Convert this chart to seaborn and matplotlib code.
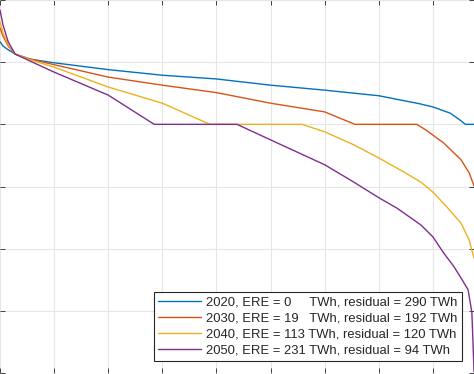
import pandas as pd
import matplotlib
matplotlib.use("Agg")
import matplotlib.pyplot as plt
import seaborn as sns

# load duration curves (hours of the year vs. load)
hours_2020 = [0, 55, 150, 280, 550, 1000, 2000, 3000, 4000, 5000, 6000, 7000, 7760, 8000, 8320, 8500, 8600, 8760]
load_2020 = [53.3, 52.6, 52.0, 51.3, 50.5, 49.9, 48.8, 47.9, 47.3, 46.3, 45.5, 44.6, 43.3, 42.8, 41.8, 40.7, 40.0, 40.0]

hours_2030 = [0, 55, 150, 280, 550, 1000, 2000, 3000, 4000, 5000, 6000, 6560, 7700, 7870, 8200, 8520, 8670, 8760]
load_2030 = [55.5, 54.2, 52.6, 51.3, 50.5, 49.6, 47.6, 46.3, 45.1, 43.4, 42.0, 40.0, 40.0, 39.1, 37.0, 34.3, 32.2, 30.1]

hours_2040 = [0, 55, 150, 280, 550, 1000, 2000, 3000, 3880, 5580, 6000, 6540, 7000, 7470, 7780, 8000, 8260, 8520, 8670, 8760]
load_2040 = [56.5, 54.7, 52.8, 51.3, 50.4, 49.2, 46.0, 43.4, 40.0, 40.0, 38.8, 36.7, 34.6, 32.3, 30.7, 29.1, 26.7, 24.1, 21.4, 18.5]

hours_2050 = [0, 55, 150, 280, 550, 1000, 2000, 2850, 4380, 5000, 6000, 6540, 7000, 7340, 7780, 8000, 8200, 8390, 8540, 8650, 8720, 8740, 8760]
load_2050 = [58.4, 56.0, 53.3, 51.3, 50.2, 48.4, 44.7, 40.0, 40.0, 37.5, 33.5, 30.7, 28.2, 26.5, 23.8, 21.9, 19.3, 17.1, 15.0, 13.4, 9.8, 5.3, 0.2]

labels = [
    "2020, ERE = 0     TWh, residual = 290 TWh",
    "2030, ERE = 19   TWh, residual = 192 TWh",
    "2040, ERE = 113 TWh, residual = 120 TWh",
    "2050, ERE = 231 TWh, residual = 94 TWh",
]
colors = ["#0072BD", "#D95319", "#EDB120", "#7E2F8E"]

series = [(hours_2020, load_2020), (hours_2030, load_2030), (hours_2040, load_2040), (hours_2050, load_2050)]
frames = []
for lab, (h, v) in zip(labels, series):
    frames.append(pd.DataFrame({"hours": h, "load": v, "case": lab}))
df = pd.concat(frames, ignore_index=True)

sns.set_style("whitegrid")
plt.rcParams['font.family'] = ['Liberation Sans', 'DejaVu Sans']

fig = plt.figure(figsize=(4.74, 3.74), dpi=100)
ax = fig.add_axes([0, 1 / 374, 1, 373 / 374])

sns.lineplot(data=df, x="hours", y="load", hue="case", palette=colors,
             sort=False, estimator=None, linewidth=1.0, ax=ax)

ax.set_xlim(0, 8760)
ax.set_ylim(0, 60)
ax.set_xticks(range(0, 9000, 1000))
ax.set_yticks(range(0, 70, 10))
ax.set_xticklabels([])
ax.set_yticklabels([])
ax.set_xlabel("")
ax.set_ylabel("")
ax.grid(True, color="#e6e6e6", linewidth=0.8)
for s in ax.spines.values():
    s.set_visible(False)
ax.tick_params(direction="in", length=3.6, width=0.6, color="#262626",
               top=True, right=True, bottom=True, left=True)

leg = ax.legend(loc="lower right", bbox_to_anchor=(462 / 474, 13 / 374),
                bbox_transform=fig.transFigure, fontsize=9.4, frameon=True,
                fancybox=False, framealpha=1, edgecolor="#262626",
                handlelength=3.3, handletextpad=0.35, labelspacing=0.3,
                borderpad=0.35, borderaxespad=0)
leg.get_frame().set_linewidth(0.8)
leg.set_title(None)

fig.savefig("out.png", dpi=100)
